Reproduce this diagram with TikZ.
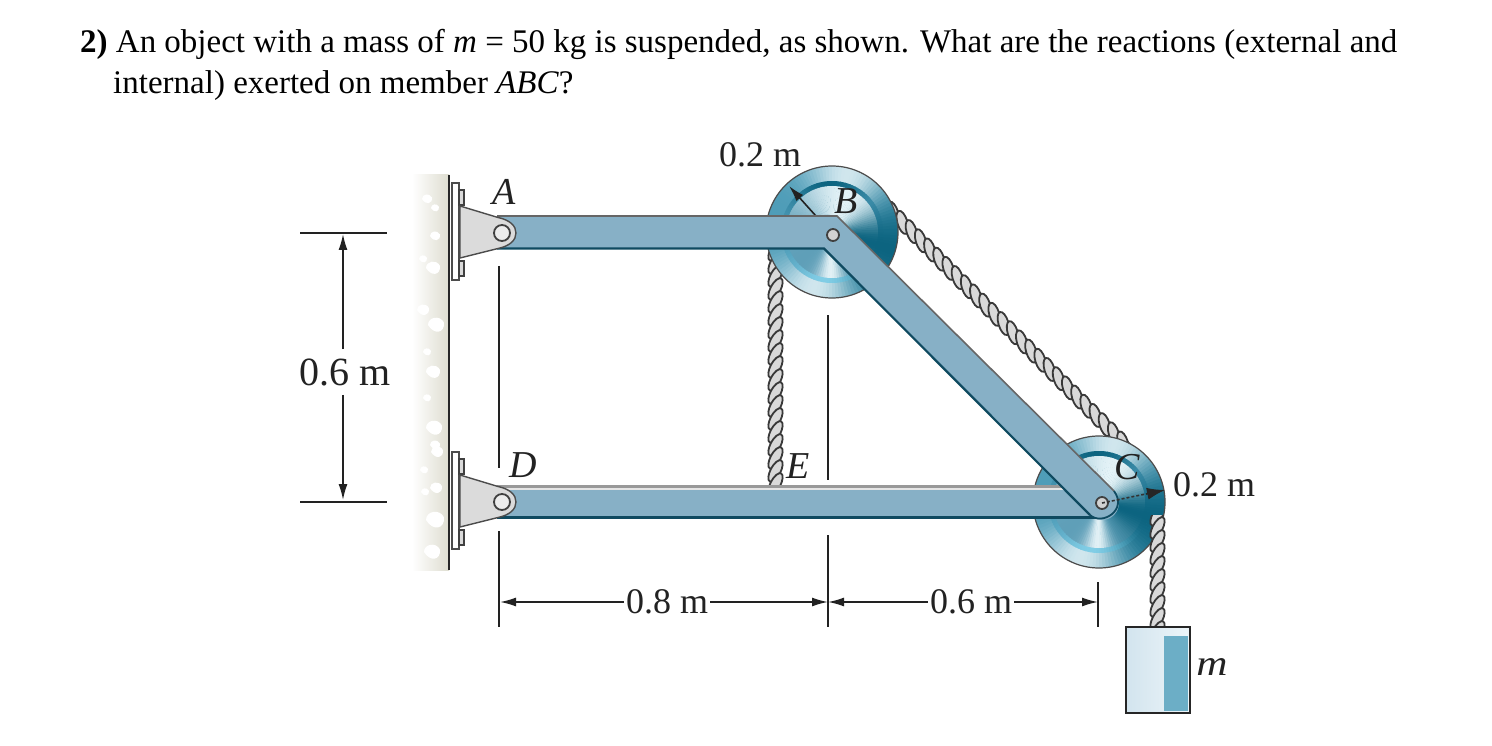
\documentclass[tikz,border=0pt]{standalone}
\usepackage{fontspec}
\setmainfont{Liberation Serif}
\usetikzlibrary{arrows.meta,decorations.markings,calc}
\definecolor{ink}{HTML}{222222}
\definecolor{memb}{HTML}{87B0C6}
\definecolor{membdark}{HTML}{0F4A60}
\definecolor{ringlight}{HTML}{D3E8EF}
\definecolor{ringdark}{HTML}{4F9DB8}
\definecolor{groovelight}{HTML}{86D2EA}
\definecolor{groovemid}{HTML}{4A98B4}
\definecolor{disclight}{HTML}{E6F4F8}
\definecolor{discdark}{HTML}{5F9FB8}
\definecolor{deepteal}{HTML}{0C6480}
\definecolor{wallc}{HTML}{DEDDD0}
\definecolor{blocka}{HTML}{D2E4EE}
\definecolor{blockb}{HTML}{EDF5F9}
\definecolor{blockc}{HTML}{6CAEC6}
\tikzset{
  labeltext/.style={font=\fontsize{36}{40}\selectfont,text=ink,inner sep=2pt},
  letter/.style={font=\fontsize{38}{40}\selectfont\itshape,text=ink,inner sep=0pt},
  titletext/.style={font=\fontsize{33}{40}\selectfont,text=black,anchor=base west,inner sep=0pt},
  dimline/.style={draw=ink,line width=1.6pt},
  dimarrow/.style={dimline,-{Latex[length=16pt,width=9pt]}},
  rope/.style={
    line width=10pt,draw=gray!55!black,
    postaction={decorate,decoration={markings,
      mark=between positions 0 and 1 step 13pt with {
        \draw[fill=gray!30,draw=gray!45!black,line width=1.8pt,rotate=-28]
          (0,0) ellipse [x radius=12pt,y radius=5pt];
      }}}},
  pinhole/.style={fill=#1,draw=black!75,line width=1.8pt}
}
\newcommand{\pulleydisc}[2]{%
  \begin{scope}[shift={(#1,#2)}]
    \foreach \a in {0,3,...,357}{
      \pgfmathsetmacro{\b}{\a+3.6}
      \pgfmathsetmacro{\t}{100*(0.5+0.5*cos(2*(\a+75)))^2}
      \pgfmathsetmacro{\s}{100*(0.5+0.5*cos(\a-15))^6}
      \colorlet{tmpc}{ringlight!\t!ringdark}
      \fill[deepteal!\s!tmpc] (0,0) -- (\a:66) -- (\b:66) -- cycle;
    }
    \foreach \a in {0,3,...,357}{
      \pgfmathsetmacro{\b}{\a+3.6}
      \pgfmathsetmacro{\t}{100*(0.5+0.5*cos(\a-90))^5}
      \pgfmathsetmacro{\sa}{(0.5+0.5*cos(\a+95))^6}
      \pgfmathsetmacro{\sb}{(0.5+0.5*cos(\a-15))^6}
      \pgfmathsetmacro{\s}{100*max(\sa,\sb)}
      \colorlet{tmpc}{groovelight!\t!groovemid}
      \fill[deepteal!\s!tmpc] (0,0) -- (\a:51) -- (\b:51) -- cycle;
    }
    \foreach \a in {0,3,...,357}{
      \pgfmathsetmacro{\b}{\a+3.6}
      \pgfmathsetmacro{\ta}{(0.5+0.5*cos(\a+65))^2}
      \pgfmathsetmacro{\tb}{(0.5+0.5*cos(\a-90))^40}
      \pgfmathsetmacro{\t}{100*max(\ta,\tb)}
      \pgfmathsetmacro{\s}{100*(0.5+0.5*cos(\a-15))^8}
      \colorlet{tmpc}{disclight!\t!discdark}
      \fill[deepteal!\s!tmpc] (0,0) -- (\a:46) -- (\b:46) -- cycle;
    }
    \draw[black!70,line width=1.2pt] (0,0) circle [radius=66];
  \end{scope}
}
\newcommand{\bracket}[2]{%
  \begin{scope}[shift={(#1,#2)}]
    \draw[fill=white,draw=black!70,line width=1.2pt] (-50,-50) rectangle (-43,47);
    \draw[fill=gray!30,draw=black!75,line width=1.2pt] (-43,-43) rectangle (-38,-28);
    \draw[fill=gray!30,draw=black!75,line width=1.2pt] (-43,28) rectangle (-38,43);
    \draw[fill=gray!28,draw=black!70,line width=1.4pt]
      (-42,-27) -- (-4,-15.5) .. controls (8,-13) and (14,-7) .. (14,0)
      .. controls (14,7) and (8,13) .. (-4,15.5) -- (-42,25) -- cycle;
    \draw[pinhole=gray!15] (0,0) circle [radius=8];
  \end{scope}
}
\begin{document}
\begin{tikzpicture}[x=1pt,y=-1pt]
\useasboundingbox (0,0) rectangle (1492,746);
\fill[white] (0,0) rectangle (1492,746);

% title
\node[titletext] (t1) at (80,53) {\textbf{2)} An object with a mass of \textit{m} = 50 kg is suspended, as shown. What are the reactions (external and};
\node[titletext] (t2) at (113,94) {internal) exerted on member \textit{ABC}?};

% wall
\shade[left color=white,right color=wallc] (412,175) rectangle (449,570);
\foreach \x/\y/\r in {427/199/5,435/208/4,435/236/5,423/259/4,433/268/7,436/325/8,423/310/6,427/352/4,433/372/7,427/398/4,434/428/8,435/445/5,424/470/4,437/452/6,435/520/9,425/492/4,432/552/8,436/488/6}{
  \fill[white] (\x-\r,\y) .. controls (\x-\r,\y-\r) and (\x+0.5*\r,\y-1.3*\r) .. (\x+\r,\y-0.3*\r)
     .. controls (\x+1.1*\r,\y+\r) and (\x-0.2*\r,\y+1.3*\r) .. (\x-\r,\y) -- cycle;
}
\draw[black!85,line width=2pt] (449,175) -- (449,570);

% ropes that run behind the pulleys
\coordinate (r1a) at (775.5,250);
\coordinate (r1b) at (775.5,490);
\coordinate (r2a) at (884,204);
\coordinate (r2b) at (1132,452);
\coordinate (r3a) at (1157.5,515);
\coordinate (r3b) at (1157.5,634);
\begin{scope}
  \clip (700,100) rectangle (1300,485.5);
  \draw[rope] (r1a) -- (r1b);
  \draw[rope] (r2a) -- (r2b);
\end{scope}

% pulleys
\pulleydisc{832}{232}
\pulleydisc{1099}{502}

% rope to the weight
\begin{scope}
  \clip (1100,515) rectangle (1200,626);
  \draw[rope] (r3a) -- (r3b);
\end{scope}

% radius arrow on pulley B
\coordinate (pinB) at (833,235);
\coordinate (tipB) at (789,186);
\draw[dimarrow] (pinB) -- (tipB);

% member DE
\fill[memb] (497,485) rectangle (1102,518);
\fill[gray!80] (497,485) rectangle (1102,487.5);
\fill[gray!20] (497,487.5) rectangle (1102,490);
\fill[membdark] (497,515.5) rectangle (1102,518.5);

% member ABC
\fill[memb] (497,216) -- (837,216) -- (1114,491) -- (1090,515) -- (824,249) -- (497,249) -- cycle;
\fill[memb] (1102,503) circle [radius=17];
\draw[gray!80!black,line width=1.6pt] (497,216) -- (837,216) -- (1114,491);
\draw[membdark,line width=2.2pt] (497,248.5) -- (824,248.5) -- (1090,515);
\draw[membdark,line width=1.8pt] (1090,515) .. controls (1102,526) and (1128,510) .. (1114,491);

% pins of the frame
\draw[pinhole=gray!35] (833,235) circle [radius=6];
\draw[pinhole=gray!35] (1102,503) circle [radius=6];

% brackets
\bracket{502}{233}
\bracket{502}{502}

% weight
\node[draw=black!85,line width=2pt,minimum width=64pt,minimum height=86pt,inner sep=0pt,
      left color=blocka,right color=blockb,anchor=north west] (block) at (1125,626) {};
\fill[blockc] (1164,636) rectangle (1188,711);

% radius arrow on pulley C
\coordinate (pinC) at (1102,503);
\coordinate (tipC) at (1165,490);
\draw[black!80,line width=1.6pt,dash pattern=on 3pt off 2pt] (pinC) -- (1148,493.5);
\draw[draw=black!85,line width=1.4pt,-{Latex[length=18pt,width=12pt]}] (1146,494) -- (tipC);

% letters
\node[letter] (la) at (504,192) {A};
\node[letter] (lb) at (846,201) {B};
\node[letter] (lc) at (1127,467) {C};
\node[letter] (ld) at (523,465) {D};
\node[letter] (le) at (798,466) {E};
\node[letter,font=\fontsize{36}{40}\selectfont\itshape,xscale=1.2] (lm) at (1212,667) {m};

% dimension labels
\node[labeltext] (l02a) at (760,155) {0.2 m};
\node[labeltext] (l02b) at (1214,485) {0.2 m};
\node[labeltext,font=\fontsize{40}{44}\selectfont,inner ysep=9pt] (l06) at (345,372) {0.6 m};
\node[labeltext] (l08) at (667,602) {0.8 m};
\node[labeltext] (l06b) at (971,602) {0.6 m};

% vertical dimension
\coordinate (vt) at (343,234);
\coordinate (vb) at (343,500);
\draw[dimline] (300,233) -- (387,233);
\draw[dimline] (300,502) -- (387,502);
\draw[dimarrow] (l06.north -| vt) -- (vt);
\draw[dimarrow] (l06.south -| vb) -- (vb);

% horizontal dimension
\coordinate (h1) at (500,602);
\coordinate (h2) at (828,602);
\coordinate (h3) at (1098,602);
\draw[dimline] (499,266) -- (499,468);
\draw[dimline] (499,531) -- (499,627);
\draw[dimline] (828,315) -- (828,480);
\draw[dimline] (828,535) -- (828,627);
\draw[dimline] (1098,582) -- (1098,627);
\draw[dimarrow] (l08.west) -- (h1);
\draw[dimarrow] (l08.east) -- (h2);
\draw[dimarrow] (l06b.west) -- (h2);
\draw[dimarrow] (l06b.east) -- (h3);
\end{tikzpicture}
\end{document}
